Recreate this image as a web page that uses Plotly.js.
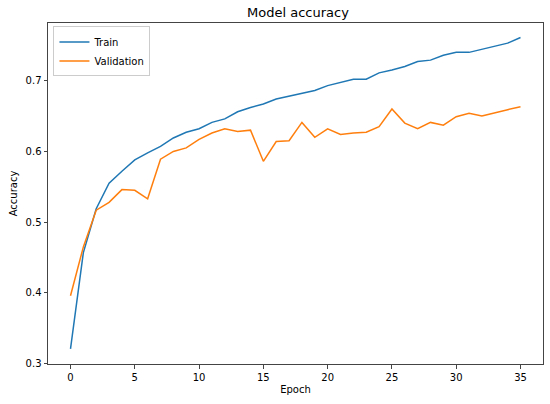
<!DOCTYPE html>
<html>
<head>
<meta charset="utf-8">
<script src="https://cdn.plot.ly/plotly-3.0.1.min.js"></script>
<style>html,body{margin:0;padding:0;background:#fff;}#chart{width:550px;height:404px;}</style>
</head>
<body>
<div id="chart"></div>
<script>
const epochs = [0,1,2,3,4,5,6,7,8,9,10,11,12,13,14,15,16,17,18,19,20,21,22,23,24,25,26,27,28,29,30,31,32,33,34,35];
const trainAcc = [0.321,0.457,0.519,0.555,0.572,0.588,0.598,0.607,0.619,0.627,0.632,0.641,0.646,0.656,0.662,0.667,0.674,0.678,0.682,0.686,0.693,0.697,0.702,0.702,0.711,0.715,0.720,0.727,0.729,0.736,0.740,0.740,0.744,0.749,0.753,0.761];
const valAcc = [0.396,0.465,0.517,0.528,0.546,0.545,0.533,0.589,0.600,0.605,0.617,0.626,0.632,0.628,0.630,0.586,0.614,0.615,0.641,0.620,0.632,0.624,0.626,0.627,0.635,0.660,0.640,0.632,0.641,0.637,0.649,0.654,0.650,0.655,0.659,0.663];
const seriesNames = ['Train','Validation'];
const xTicks = [0,5,10,15,20,25,30,35];
const yTicks = [0.3,0.4,0.5,0.6,0.7];

const font = {family: 'DejaVu Sans, sans-serif', size: 10, color: '#000'};
const traces = [
  {x: epochs, y: trainAcc, name: seriesNames[0], type: 'scatter', mode: 'lines', line: {color: '#1f77b4', width: 1.5}},
  {x: epochs, y: valAcc, name: seriesNames[1], type: 'scatter', mode: 'lines', line: {color: '#ff7f0e', width: 1.5}}
];
const axisCommon = {
  showgrid: false, zeroline: false, showline: true, mirror: true,
  linecolor: '#444', linewidth: 1, ticks: 'outside', ticklen: 3.5, tickwidth: 1, tickcolor: '#444',
  tickfont: font
};
const layout = {
  width: 550, height: 404,
  margin: {l: 48, r: 7, t: 23, b: 40},
  paper_bgcolor: '#fff', plot_bgcolor: '#fff',
  font: font,
  title: {text: 'Model accuracy', font: {family: 'DejaVu Sans, sans-serif', size: 13, color: '#000'}, x: 0.5417, xanchor: 'center', y: 0.97, yanchor: 'middle'},
  xaxis: Object.assign({}, axisCommon, {range: [-1.75, 36.75], tickvals: xTicks, ticktext: xTicks.map(String),
    title: {text: 'Epoch', font: font, standoff: 4}}),
  yaxis: Object.assign({}, axisCommon, {range: [0.2995, 0.7815], tickvals: yTicks, ticktext: yTicks.map(v => v.toFixed(1)),
    title: {text: 'Accuracy', font: font, standoff: 6}}),
  showlegend: true,
  legend: {x: 0.011, y: 0.99, xanchor: 'left', yanchor: 'top', bgcolor: 'rgba(255,255,255,0.8)',
    bordercolor: '#ccc', borderwidth: 1, font: font, tracegroupgap: 0, itemwidth: 30},
};
Plotly.newPlot('chart', traces, layout, {displayModeBar: false, staticPlot: true});
</script>
</body>
</html>
